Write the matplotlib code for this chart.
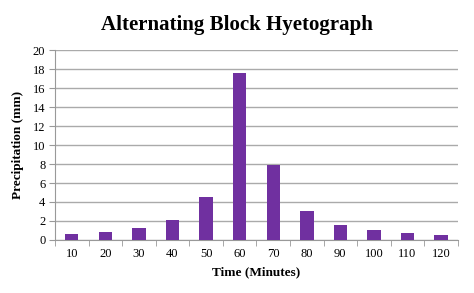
import matplotlib
matplotlib.use("Agg")
import matplotlib.pyplot as plt
import numpy as np

times = ["10", "20", "30", "40", "50", "60", "70", "80", "90", "100", "110", "120"]
precip = [0.6, 0.8, 1.3, 2.1, 4.5, 17.6, 7.9, 3.0, 1.6, 1.0, 0.7, 0.5]
yticks = [0, 2, 4, 6, 8, 10, 12, 14, 16, 18, 20]

plt.rcParams['font.family'] = ['Liberation Serif', 'DejaVu Serif']

fig = plt.figure(figsize=(4.74, 2.93), dpi=100)
ax = fig.add_axes([0.116, 0.181, 0.850, 0.648])

x = np.arange(len(times))
ax.bar(x, precip, width=0.4, color="#7030A0", zorder=3)
ax.set_xlim(-0.5, len(times) - 0.5)
ax.set_ylim(0, 20)
ax.set_yticks(yticks)
ax.set_xticks(x)
ax.set_xticklabels(times)
ax.set_xticks(np.arange(-0.5, len(times), 1), minor=True)
ax.tick_params(axis='x', which='major', length=0, pad=6, labelsize=9)
ax.tick_params(axis='x', which='minor', length=4, color="#999999", direction='out')
ax.tick_params(axis='y', length=4, color="#999999", labelsize=9, pad=3)
ax.yaxis.grid(True, color="#aaaaaa", linewidth=1, zorder=0)
for s in ['top', 'right']:
    ax.spines[s].set_visible(False)
for s in ['left', 'bottom']:
    ax.spines[s].set_color("#999999")
ax.set_xlabel("Time (Minutes)", fontsize=9.5, fontweight='bold', labelpad=4)
ax.set_ylabel("Precipitation (mm)", fontsize=9.5, fontweight='bold', labelpad=6)
fig.text(0.5, 0.915, "Alternating Block Hyetograph", ha='center', va='center',
         fontsize=15, fontweight='bold')

fig.savefig("out.png", dpi=100)
